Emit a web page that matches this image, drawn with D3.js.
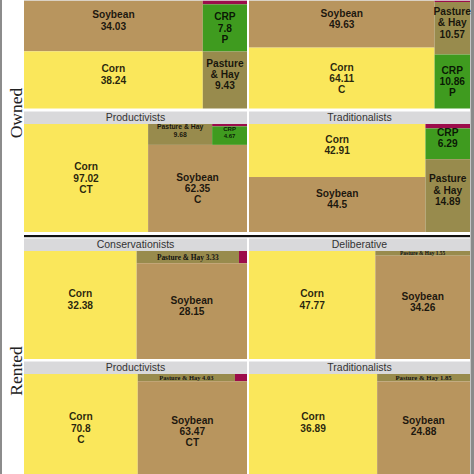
<!DOCTYPE html>
<html><head><meta charset="utf-8">
<script src="https://cdn.jsdelivr.net/npm/d3@7"></script>
<style>html,body{margin:0;padding:0;background:#fff;overflow:hidden}</style>
</head><body><svg id="c" width="474" height="474"></svg>
<script>
// ---------- data ----------
const tenures = ["Owned", "Rented"];
const groups = ["Conservationists", "Deliberative", "Productivists", "Traditionalists"];
// panel order: Owned C, D, P, T, then Rented C, D, P, T
const cornValues    = [38.24, 64.11, 97.02, 42.91, 32.38, 47.77, 70.8, 36.89];
const soybeanValues = [34.03, 49.63, 62.35, 44.5, 28.15, 34.26, 63.47, 24.88];
const pastureValues = [9.43, 10.57, 9.68, 14.89, 3.33, 1.55, 4.03, 1.85];
const crpValues     = [7.8, 10.86, 4.67, 6.29, 0, 0, 0, 0];
const otherValues   = [0.64, 0.3, 0.6, 0.9, 0.26, 0, 0.5, 0];
const cornCodes    = ["", "C", "CT", "", "", "", "C", ""];
const soybeanCodes = ["", "", "C", "", "", "", "CT", ""];
const crpCodes     = ["P", "P", "", "", "", "", "", ""];
// nesting of each treemap (alternating columns / rows)
const arrangements = [
  [["Soybean", "Corn"], ["Other", "CRP", "Pasture & Hay"]],
  [["Soybean", "Corn"], ["Other", "Pasture & Hay", "CRP"]],
  [["Corn"], [["Pasture & Hay", ["Other", "CRP"]], "Soybean"]],
  [["Corn", "Soybean"], ["Other", "CRP", "Pasture & Hay"]],
  [["Corn"], [["Pasture & Hay", "Other"], "Soybean"]],
  [["Corn"], [["Pasture & Hay"], "Soybean"]],
  [["Corn"], [["Pasture & Hay", "Other"], "Soybean"]],
  [["Corn"], [["Pasture & Hay"], "Soybean"]]
];

// ---------- style / layout ----------
const colors = {
  "Corn": "#FAE75B", "Soybean": "#B8955E", "Pasture & Hay": "#988B4D",
  "CRP": "#3F9B1F", "Other": "#9C0C4B"
};
const svg = d3.select("#c");
const colX = [24, 249], colW = 223, colW2 = 221;
const rowTop = [-12, 111.5, 238.5, 361.5];
const stripH = 12.5, contentH = 108;
const F = 10.2, LH = 1.1;
const SANS = '"Liberation Sans", Arial, sans-serif';
const SERIF = '"Liberation Serif", "Times New Roman", serif';
const ctx = document.createElement("canvas").getContext("2d");
function tw(t, f, fam, weight) { ctx.font = `${weight || "bold"} ${f}px ${fam || SANS}`; return ctx.measureText(t).width; }
function wrapWords(words, f, maxW) {
  const out = []; let cur = "";
  words.forEach(w => {
    const test = cur ? cur + " " + w : w;
    if (cur && tw(test, f) > maxW) { out.push(cur); cur = w; } else cur = test;
  });
  if (cur) out.push(cur);
  return out;
}

svg.append("rect").attr("x", 0).attr("y", 0).attr("width", 2).attr("height", 474).attr("fill", "#8c8c8c");
svg.append("rect").attr("x", 470.5).attr("y", 0).attr("width", 3.5).attr("height", 474).attr("fill", "#8a8a8a");

for (let i = 0; i < 8; i++) {
  const t = Math.floor(i / 4), g = i % 4, col = g % 2, row = t * 2 + Math.floor(g / 2);
  const x0 = colX[col], w = col === 0 ? colW : colW2;
  const y0 = rowTop[row];
  const vals = { "Corn": cornValues[i], "Soybean": soybeanValues[i], "Pasture & Hay": pastureValues[i], "CRP": crpValues[i], "Other": otherValues[i] };
  const codes = { "Corn": cornCodes[i], "Soybean": soybeanCodes[i], "CRP": crpCodes[i] };
  const build = n => Array.isArray(n) ? { children: n.map(build) } : { name: n, value: vals[n] };
  const root = d3.hierarchy(build(arrangements[i])).sum(d => d.children ? 0 : d.value);
  d3.treemap().tile(d3.treemapSliceDice).size([w, contentH]).round(false)(root);

  const gP = svg.append("g").attr("transform", `translate(${x0},${y0 + stripH})`);
  const leaves = root.leaves();
  gP.selectAll("rect").data(leaves).join("rect")
    .attr("x", d => d.x0).attr("y", d => d.y0)
    .attr("width", d => d.x1 - d.x0).attr("height", d => d.y1 - d.y0)
    .attr("fill", d => colors[d.data.name]);

  leaves.filter(d => d.data.name !== "Other").forEach(d => {
    const bw = d.x1 - d.x0, bh = d.y1 - d.y0, cx = (d.x0 + d.x1) / 2, cy = (d.y0 + d.y1) / 2;
    const name = d.data.name, val = String(d.data.value), code = codes[name] || "";
    let lines, f, mode = "fit";
    const wrapped = wrapWords(name.split(" "), F, bw - 6);
    lines = [...wrapped, val, code];
    const visible = lines.filter(s => s).length;
    if (visible * F * LH <= bh) { f = F; }
    else {
      lines = [name, val, code];
      const maxW = d3.max(lines, s => tw(s, 1));
      f = Math.min(bh / (lines.length * 1.02), (bw - 2) / maxW, F);
      if (f < 4) mode = "note";
    }
    if (mode === "fit") {
      const lh = f * LH, top = cy - lines.length * lh / 2;
      const txt = gP.append("text").attr("text-anchor", "middle")
        .attr("font-family", SANS).attr("font-weight", "bold").attr("font-size", f)
        .attr("fill", "#000").attr("fill-opacity", 0.85);
      lines.forEach((s, k) => {
        if (!s) return;
        txt.append("tspan").attr("x", cx).attr("y", top + lh * (k + 0.5) + 0.36 * f).text(s);
      });
    } else {
      const fs = Math.max(5.4, Math.min(7.4, bh * 0.9));
      gP.append("text").attr("text-anchor", "middle").attr("x", cx).attr("y", cy + 0.34 * fs)
        .attr("font-family", SERIF).attr("font-weight", "bold").attr("font-size", fs)
        .attr("fill", "#111").text(`${name} ${val}`);
    }
  });

  // strip (the top row's strips lie above the picture, so only their bars are drawn)
  svg.append("rect").attr("x", x0).attr("y", y0).attr("width", w).attr("height", stripH).attr("fill", "#D9D9DB");
  if (y0 >= 0) {
    svg.append("text").attr("x", x0 + w / 2).attr("y", y0 + stripH / 2 + 3.7)
      .attr("text-anchor", "middle").attr("font-family", SANS).attr("font-size", 10.5)
      .attr("fill", "#333").text(groups[g]);
  }
}

// separator between tenures
svg.append("rect").attr("x", 24).attr("y", 235).attr("width", 446).attr("height", 2.2).attr("fill", "#111");

// tenure labels
[[tenures[0], 113], [tenures[1], 371]].forEach(([lab, cy]) => {
  svg.append("text").attr("transform", `translate(22,${cy}) rotate(-90)`)
    .attr("text-anchor", "middle").attr("font-family", SERIF).attr("font-size", 17.5)
    .attr("fill", "#222").text(lab);
});
</script></body></html>
